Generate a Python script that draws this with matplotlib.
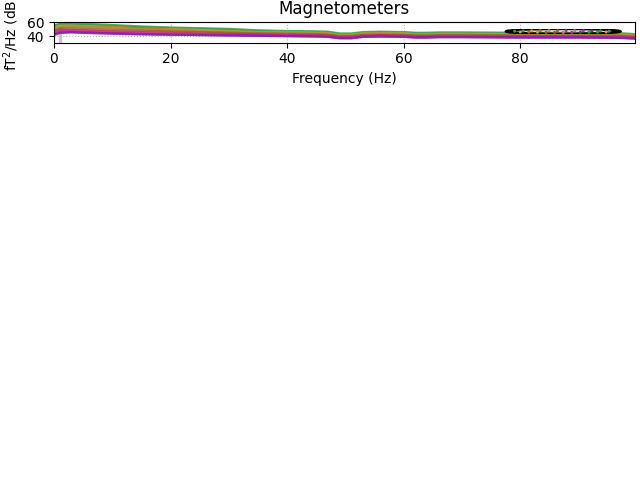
import matplotlib
matplotlib.use("Agg")
import matplotlib.pyplot as plt
from matplotlib.patches import Ellipse

freqs = [0.0, 1, 3, 6, 10, 15, 20, 25, 30, 35, 40, 45, 47, 49, 51, 53, 56,
         60, 62, 64, 66, 70, 80, 90, 97, 99.7]

channels = {
    "#2ca02c": [55, 58, 58.5, 57.5, 56, 54, 52.5, 51.5, 50.5, 48.5, 47.5, 47, 46.5, 44, 44, 46, 46.5, 46, 45, 45, 45.5, 45.5, 45, 45, 44.5, 43],
    "#3a9a50": [54, 57, 57, 56, 55, 53, 51.5, 50.5, 49.5, 47.5, 46.5, 46, 45.5, 43, 43, 45, 45.5, 45, 44, 44, 44.5, 44.5, 44, 44, 43.5, 42],
    "#d8a030": [52, 55, 55, 54, 53, 51, 50, 49, 47, 46, 45.5, 45, 44.5, 42, 42, 44, 44.5, 44, 43, 43, 43.5, 43.5, 43, 43, 42.5, 41.5],
    "#e05020": [50, 53, 54, 53, 52.5, 51.5, 49, 47.5, 46, 45, 44.5, 44, 43.5, 41, 41, 43, 43.5, 43, 42, 42, 42.5, 42.5, 42, 42, 41.5, 40.5],
    "#a0a040": [51, 54, 54, 53, 52, 50, 49, 48, 46.5, 45.5, 45, 44.5, 44, 41.5, 41.5, 43.5, 44, 43.5, 42.5, 42.5, 43, 43, 42.5, 42.5, 42, 41],
    "#a05a30": [48, 51, 51, 50, 49, 48, 47, 46, 45, 44, 43.5, 43, 42.5, 40, 40, 42, 42.5, 42, 41, 41, 41.5, 41.5, 41, 41, 40.5, 39.5],
    "#c03070": [46, 49, 49, 48, 47, 46, 45, 44, 43, 42.5, 42, 41.5, 41, 39, 39, 41, 41.5, 41, 40, 40, 40.5, 40.5, 40, 40, 39.5, 38.5],
    "#e060b0": [43, 46, 46, 45, 44.5, 43.5, 43, 42, 41.5, 41, 40.5, 40, 39.5, 37.5, 37.5, 39.5, 40, 39.5, 38.5, 38.5, 39, 39, 38.5, 38.5, 38, 37],
    "#c020c0": [44, 47, 47, 46, 45, 44, 43, 42.5, 42, 41.5, 41, 40.5, 40, 38, 38, 40, 40.5, 40, 39, 39, 39.5, 39.5, 39, 39, 38.5, 37.5],
    "#8020a0": [42, 45, 46, 45, 44, 43, 42.5, 42, 41.5, 41, 40.5, 40, 39.5, 37.5, 37.5, 39.5, 40, 39.5, 38.5, 38.5, 39, 39, 38.5, 38.5, 38, 37],
}
colors = list(channels.keys())

# sensor layout for the inset (head coordinates), two rows across the head
sensor_x = [-0.85, -0.7, -0.55, -0.4, -0.25, -0.1, 0.05, 0.2, 0.35, 0.5, 0.65, 0.8,
            -0.75, -0.6, -0.45, -0.3, -0.15, 0.0, 0.15, 0.3, 0.45, 0.6, 0.75]
sensor_y = [0.1, 0.2, 0.25, 0.3, 0.3, 0.3, 0.3, 0.3, 0.3, 0.25, 0.2, 0.1,
            -0.2, -0.3, -0.35, -0.4, -0.4, -0.4, -0.4, -0.4, -0.35, -0.3, -0.2]
sensor_c = colors + colors + colors[:3]

fig = plt.figure(figsize=(6.4, 4.8), dpi=100)
ax = fig.add_axes([54 / 640, 1 - 42.7 / 480, 581 / 640, 20.7 / 480])

ax.axvline(1.0, color="#c8c8c8", lw=2.5, zorder=0)
for color, vals in channels.items():
    ax.plot(freqs, vals, color=color, lw=1.8, alpha=0.8)

ax.set_xlim(0, 99.7)
ax.set_ylim(31, 60.5)
ax.set_xticks([0, 20, 40, 60, 80])
ax.set_yticks([40, 60])
ax.grid(True, linestyle=":", color="#b0b0b0")
ax.set_xlabel("Frequency (Hz)")
ax.set_ylabel("fT$^2$/Hz (dB)")
ax.set_title("Magnetometers")

ins = ax.inset_axes([0.773, 0.42, 0.207, 0.25])
ins.add_patch(Ellipse((0, 0), 2.0, 2.0, fill=False, color="k", lw=1.8))
ins.scatter(sensor_x, sensor_y, c=sensor_c[:len(sensor_x)], s=1.5, zorder=3)
ins.set_xlim(-1.05, 1.05)
ins.set_ylim(-1.05, 1.05)
ins.set_xticks([])
ins.set_yticks([])
ins.axis("off")

fig.savefig("out.png", dpi=100)
